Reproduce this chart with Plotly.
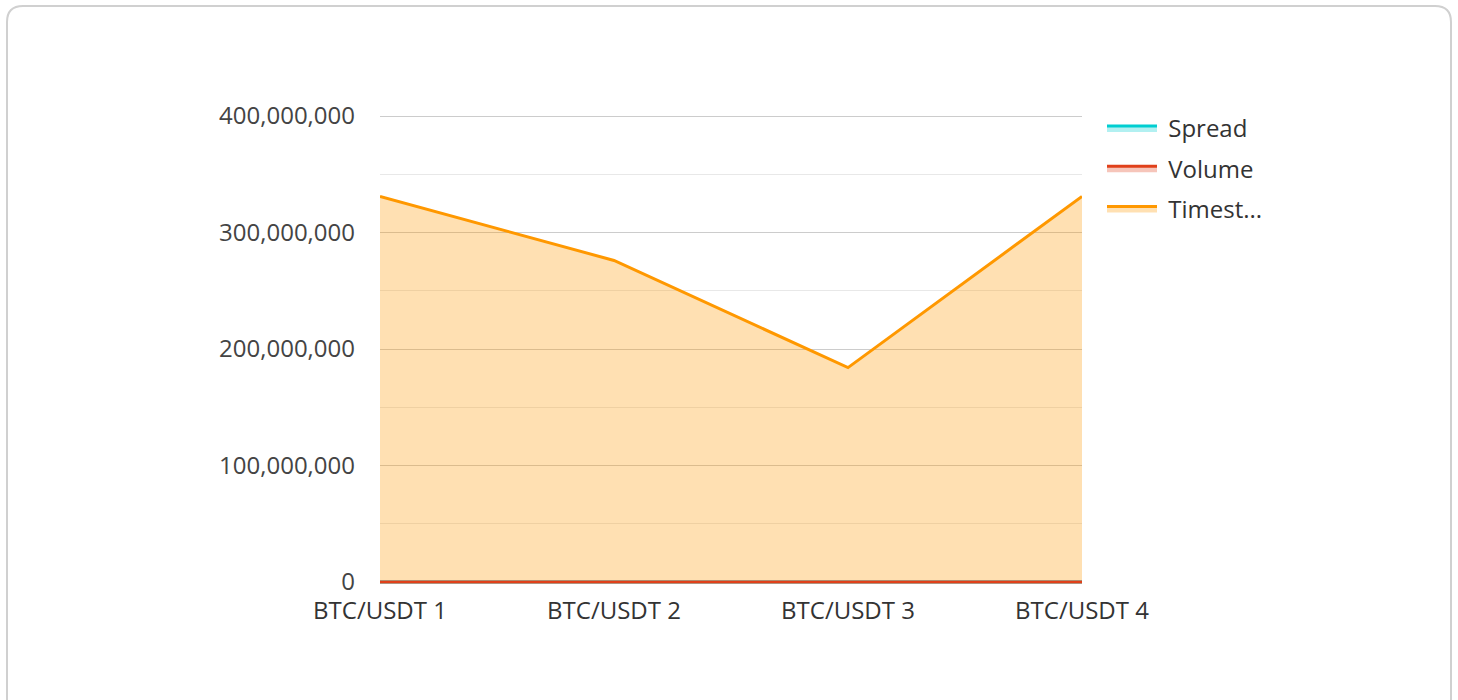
import plotly.graph_objects as go

categories = ["BTC/USDT 1", "BTC/USDT 2", "BTC/USDT 3", "BTC/USDT 4"]
spread_values = [12.5, 10.8, 14.2, 11.6]
volume_values = [1520, 1385, 1710, 1460]
timestamp_values = [331_000_000, 276_000_000, 184_000_000, 331_000_000]

W, H = 1458, 700
L, R, T, B = 380, 1082, 110, 585
Y0_PX, Y400_PX = 582, 116
scale = (Y0_PX - Y400_PX) / 400_000_000
y_lo = -(B - Y0_PX) / scale
y_hi = 400_000_000 + (Y400_PX - T) / scale

def px(x):
    return (x - L) / (R - L)

def py(y):
    return (B - y) / (B - T)

fig = go.Figure()
series = [
    ("\u00a0Timest...", timestamp_values, "#FF9800", "rgba(255,152,0,0.3)", 3),
    ("\u00a0Spread", spread_values, "#00CED1", "rgba(0,206,209,0.3)", 1),
    ("\u00a0Volume", volume_values, "#E0401A", "rgba(224,64,26,0.3)", 2),
]
for name, vals, col, fillcol, rank in series:
    fig.add_trace(go.Scatter(
        x=categories, y=vals, name=name, mode="lines", legendrank=rank,
        legendgroup=name,
        line=dict(color=col, width=3), fill="tozeroy", fillcolor=fillcol,
    ))

# rounded border
x0, x1, y0, y1, r = 7, 1451, 6, 705, 16
path = (f"M {px(x0)},{py(y0 + r)} Q {px(x0)},{py(y0)} {px(x0 + r)},{py(y0)} "
        f"L {px(x1 - r)},{py(y0)} Q {px(x1)},{py(y0)} {px(x1)},{py(y0 + r)} "
        f"L {px(x1)},{py(y1)} M {px(x0)},{py(y1)} L {px(x0)},{py(y0 + r)}")
fig.add_shape(type="path", path=path, xref="paper", yref="paper",
              line=dict(color="#D0D0D0", width=2), layer="below")

fig.update_layout(
    width=W, height=H, autosize=False,
    margin=dict(l=L, r=W - R, t=T, b=H - B),
    paper_bgcolor="white", plot_bgcolor="white",
    font=dict(family="Open Sans", size=24, color="#444444"),
    showlegend=True,
    legend=dict(x=px(1102), y=py(106), xanchor="left", yanchor="top",
                font=dict(size=24, color="#333333"), tracegroupgap=6,
                itemwidth=50),
    xaxis=dict(type="category", range=[0, 3], showgrid=False, zeroline=False,
               showline=False, ticks="", ticklabelstandoff=9,
               tickfont=dict(size=24, color="#333333")),
    yaxis=dict(range=[y_lo, y_hi], tickvals=[0, 100_000_000, 200_000_000, 300_000_000, 400_000_000],
               tickformat=",",
               showgrid=True, gridcolor="#CCCCCC", gridwidth=1,
               minor=dict(tickvals=[50_000_000, 150_000_000, 250_000_000, 350_000_000],
                          showgrid=True, gridcolor="#E8E8E8"),
               zeroline=False, showline=False, ticklabelstandoff=24,
               tickfont=dict(size=24, color="#444444")),
)

fig.write_html("out.html", config={"displayModeBar": False},
               post_script="document.body.style.margin='0';")
